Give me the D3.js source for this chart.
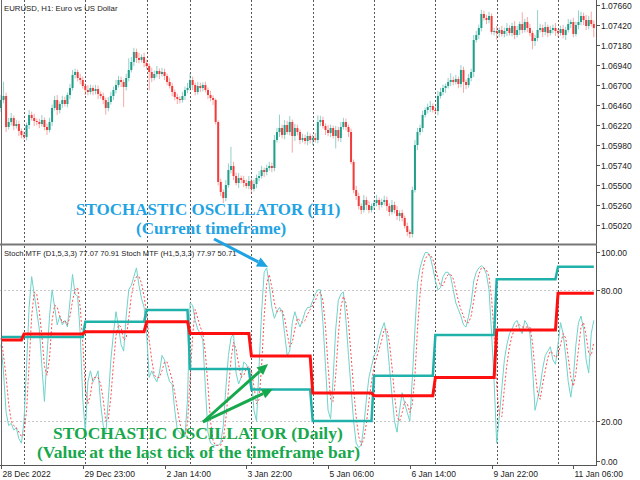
<!DOCTYPE html>
<html><head><meta charset="utf-8">
<script src="https://cdn.jsdelivr.net/npm/d3@7"></script>
<style>body{margin:0;background:#fff}svg{display:block}</style>
</head><body><svg id="c" width="640" height="480"></svg>
<script>
// ---------- DATA ----------
const firstOpen = 1.06424;
const closes = [
1.06520,1.06568,1.06196,1.06256,1.06304,1.06208,1.06232,1.06148,1.06100,1.06076,
1.06220,1.06340,1.06304,1.06268,1.06256,1.06232,1.06280,1.06196,1.06160,1.06256,
1.06424,1.06520,1.06400,1.06472,1.06520,1.06472,1.06580,1.06664,1.06820,1.06856,
1.06784,1.06760,1.06688,1.06640,1.06616,1.06664,1.06628,1.06652,1.06592,1.06568,
1.06520,1.06424,1.06496,1.06568,1.06640,1.06700,1.06760,1.06736,1.06676,1.06784,
1.06880,1.06976,1.07096,1.07024,1.07000,1.07036,1.06964,1.06928,1.06856,1.06784,
1.06832,1.06868,1.06832,1.06856,1.06808,1.06736,1.06688,1.06616,1.06556,1.06532,
1.06520,1.06568,1.06640,1.06664,1.06760,1.06700,1.06616,1.06688,1.06664,1.06700,
1.06640,1.06580,1.06544,1.06520,1.06256,1.05536,1.05416,1.05344,1.05500,1.05680,
1.05728,1.05608,1.05524,1.05584,1.05560,1.05524,1.05488,1.05548,1.05452,1.05512,
1.05584,1.05608,1.05680,1.05656,1.05704,1.05728,1.05704,1.06040,1.06136,1.06184,
1.06100,1.06220,1.06136,1.06256,1.06088,1.06184,1.06136,1.06040,1.06064,1.06028,
1.06088,1.06040,1.06064,1.06040,1.06256,1.06280,1.06208,1.06160,1.06124,1.06184,
1.06088,1.06160,1.06064,1.06196,1.06256,1.06196,1.06136,1.05776,1.05440,1.05368,
1.05248,1.05200,1.05320,1.05260,1.05200,1.05248,1.05284,1.05320,1.05260,1.05296,
1.05320,1.05248,1.05176,1.05260,1.05200,1.05128,1.05164,1.05104,1.05008,1.04936,
1.04912,1.05440,1.05980,1.06136,1.06184,1.06340,1.06400,1.06436,1.06448,1.06400,
1.06388,1.06568,1.06616,1.06664,1.06688,1.06736,1.06760,1.06736,1.06772,1.06712,
1.06880,1.06736,1.06700,1.06784,1.06856,1.07240,1.07300,1.07384,1.07552,1.07504,
1.07480,1.07528,1.07336,1.07348,1.07324,1.07360,1.07312,1.07348,1.07384,1.07324,
1.07408,1.07300,1.07360,1.07432,1.07360,1.07456,1.07384,1.07324,1.07228,1.07264,
1.07360,1.07384,1.07336,1.07396,1.07324,1.07360,1.07384,1.07348,1.07324,1.07372,
1.07300,1.07360,1.07432,1.07456,1.07312,1.07420,1.07456,1.07528,1.07480,1.07408,
1.07480,1.07432,1.07384];
// shadows in pips
const upperShadow = [
6,17,4,5,6,3,5,4,3,4, 3,6,4,5,3,4,6,3,4,5, 4,5,6,3,5,4,3,5,6,4, 3,5,4,3,6,4,3,5,4,3,
4,3,6,5,4,6,5,4,3,5, 14,6,5,4,6,3,5,4,3,5, 4,6,3,5,4,3,5,4,3,4, 3,5,4,6,8,4,3,5,4,3,
4,3,5,3,2,2,4,3,6,8, 23,5,4,6,3,5,4,6,3,5, 4,6,5,3,4,5,4,6,5,16, 4,6,5,7,3,5,4,3,5,4,
5,3,4,6,8,5,4,3,6,4, 3,5,4,6,5,4,3,4,3,5, 4,3,6,4,5,3,4,6,3,4, 5,4,3,6,4,5,3,4,3,4,
3,4,6,5,4,5,3,4,6,3, 4,6,5,4,3,5,8,4,5,3, 6,4,3,5,4,6,5,4,5,4, 4,5,3,4,6,3,5,4,6,3,
4,6,5,3,14,4,6,5,3,4, 24,5,4,6,3,5,4,6,3,4, 5,4,6,3,5,4,14,5,4,6, 5,10,4];
const lowerShadow = [
5,4,6,3,4,5,3,6,4,3, 4,5,3,6,4,5,3,4,6,3, 5,3,6,4,5,3,4,5,3,4, 4,5,3,6,4,3,5,4,6,3,
5,8,4,3,5,4,3,6,24,4, 4,3,5,6,4,3,5,4,22,5, 3,4,6,3,5,4,3,5,4,6, 4,3,5,4,3,6,4,3,5,4,
3,5,4,6,3,4,5,6,4,3, 4,5,3,6,4,5,3,4,6,3, 5,4,3,6,4,3,5,4,3,6, 4,5,3,4,20,6,4,5,3,4,
5,4,6,3,4,5,3,6,4,5, 3,15,4,5,3,4,6,3,4,5, 4,5,3,6,4,3,5,4,6,3, 4,6,5,3,4,5,6,4,3,5,
5,4,3,6,4,5,3,4,6,3, 4,5,3,4,6,3,5,4,3,5, 4,13,5,3,4,6,3,5,4,3, 5,4,3,4,8,5,3,4,6,3,
4,5,3,6,4,3,5,4,10,6, 4,3,6,4,5,3,4,6,5,3, 4,6,3,5,4,3,5,4,6,5, 4,3,11];
const stochH1Main = [
55,42,24,18,19,16,17,12,10,20, 45,72,86,78,70,62,45,29,50,68, 80,72,64,68,64,66,63,75,87,78,
77,60,30,15,38,43,38,40,43,28, 18,14,30,48,60,70,63,55,52,68, 80,82,86,90,82,76,72,60,40,43,
40,38,42,50,48,42,38,37,25,16, 15,13,13,30,74,73,66,62,60,57, 35,15,10,9,9,9,10,18,35,50,
58,60,42,37,40,47,46,43,40,25, 20,45,70,88,90,82,72,67,70,72, 70,60,50,52,65,70,66,63,66,70,
72,72,75,78,80,80,65,45,25,21, 40,62,75,78,79,66,50,35,20,10, 8,9,18,30,40,45,50,52,58,62,
65,58,45,32,20,15,25,33,28,24, 20,40,62,83,90,94,97,97,95,90, 84,80,81,86,88,88,86,80,74,71,
68,64,63,68,74,84,88,90,91,90, 87,80,60,38,10,22,35,48,55,60, 62,65,66,62,60,66,64,60,45,25,
30,36,44,50,52,54,48,46,55,65, 60,50,38,31,40,55,65,68,62,48, 42,60,66];
const stochH1Signal = [
58,50,40,28,20,18,17,15,13,14, 25,46,68,79,78,70,59,45,41,49, 66,73,72,68,65,66,64,68,75,80,
81,72,56,35,28,32,40,40,40,37, 30,20,21,31,46,59,64,63,57,58, 67,77,83,86,86,83,77,69,57,48,
41,40,40,43,47,47,43,39,33,26, 19,15,14,19,39,59,71,67,63,60, 51,36,20,11,9,9,9,12,21,34,
48,56,53,46,40,41,44,45,43,36, 28,30,45,68,83,87,81,74,70,70, 71,67,60,54,56,62,67,66,65,66,
69,71,73,75,78,79,75,63,45,30, 29,41,59,72,77,74,65,50,35,22, 13,9,12,19,29,38,45,49,53,57,
62,62,56,45,32,22,20,24,29,28, 24,28,41,62,78,89,94,96,96,94, 90,85,82,82,85,87,87,85,80,75,
71,68,65,65,68,75,82,87,90,90, 89,86,76,59,36,23,22,35,46,54, 59,62,64,64,63,63,63,63,56,43,
33,30,37,43,49,52,51,49,50,55, 60,58,49,40,36,42,53,63,65,59, 51,50,56];
// daily stochastic (one value per trading day)
const dayStart = [0,9,33,57,74,98,122,146,170,194,218];
const stochD1Main   = [58.4,58.4,65.4,70.8,43.8,34.5,20.1,40.8,59.4,84.8,90.5];
const stochD1Signal = [57.1,59.8,60.9,65.4,60.1,49.8,32.9,31.6,40.0,61.6,78.4];
const priceTicks = [1.07660,1.07420,1.07180,1.06940,1.06700,1.06460,1.06220,1.05980,1.05740,1.05500,1.05260,1.05020];
const stochTicks = [100,80,20,0];
const stochLevels = [80,20];
const timeLabelBar = [0,32,64,96,128,160,192,224];
const timeLabels = ["28 Dec 2022","29 Dec 23:00","2 Jan 14:00","3 Jan 22:00","5 Jan 06:00","6 Jan 14:00","9 Jan 22:00","11 Jan 06:00"];

// ---------- LAYOUT ----------
const svg = d3.select("#c");
const plotR = 596, mainTop = 0, mainBot = 244, subTop = 246, subBot = 465;
const n = closes.length;
const x = d3.scaleLinear().domain([0, n-1]).range([1, 593.8]);
const y = d3.scaleLinear().domain([1.05020, 1.07660]).range([225, 5]);
const ys = d3.scaleLinear().domain([0, 100]).range([subBot, subTop]);
const font = "'Liberation Sans', Arial, sans-serif";

svg.append("rect").attr("width",640).attr("height",480).attr("fill","#fff");

const defs = svg.append("defs");
defs.append("clipPath").attr("id","cm").append("rect").attr("x",0).attr("y",mainTop).attr("width",plotR).attr("height",mainBot-mainTop);
defs.append("clipPath").attr("id","cs").append("rect").attr("x",0).attr("y",subTop).attr("width",plotR).attr("height",subBot-subTop);

// day separators
const sepIdx = dayStart.slice(1);
[[mainTop,mainBot],[subTop,subBot]].forEach(([a,b])=>{
  svg.append("g").selectAll("line").data(sepIdx).join("line")
    .attr("x1",d=>Math.round(x(d))+0.5).attr("x2",d=>Math.round(x(d))+0.5)
    .attr("y1",a).attr("y2",b)
    .attr("stroke","#555").attr("stroke-width",1).attr("stroke-dasharray","2,2");
});
// stoch levels
svg.append("g").selectAll("line").data(stochLevels).join("line")
  .attr("x1",0).attr("x2",plotR).attr("y1",d=>Math.round(ys(d))+0.5).attr("y2",d=>Math.round(ys(d))+0.5)
  .attr("stroke","#c8c8c8").attr("stroke-dasharray","2,2");

// candles
const candles = closes.map((c,i)=>{
  const o = i===0 ? firstOpen : closes[i-1];
  return {i,o,c,h:Math.max(o,c)+upperShadow[i]/10000,l:Math.min(o,c)-lowerShadow[i]/10000};
});
const gC = svg.append("g").attr("clip-path","url(#cm)");
gC.selectAll("line").data(candles).join("line")
  .attr("x1",d=>x(d.i)).attr("x2",d=>x(d.i)).attr("y1",d=>y(d.h)).attr("y2",d=>y(d.l))
  .attr("stroke",d=>d.c>=d.o?"#26a69a":"#ef5350").attr("stroke-opacity",0.5).attr("stroke-width",1);
gC.selectAll("rect").data(candles).join("rect")
  .attr("x",d=>x(d.i)-1).attr("width",2)
  .attr("y",d=>y(Math.max(d.o,d.c))).attr("height",d=>Math.max(1,y(Math.min(d.o,d.c))-y(Math.max(d.o,d.c))))
  .attr("fill",d=>d.c>=d.o?"#1f9e89":"#f23c3c");

// stochastic lines
const gS = svg.append("g").attr("clip-path","url(#cs)");
const line = d3.line().x((d,i)=>x(i)).y(d=>ys(d));
gS.append("path").attr("d",line(stochH1Main)).attr("fill","none").attr("stroke","#6fd3cb").attr("stroke-width",1);
gS.append("path").attr("d",line(stochH1Signal)).attr("fill","none").attr("stroke","#ff4d4d").attr("stroke-width",1).attr("stroke-dasharray","2,2");
const dayOf = i => d3.bisectRight(dayStart, i) - 1;
const d1Main = d3.range(n).map(i=>stochD1Main[dayOf(i)]);
const d1Sig  = d3.range(n).map(i=>stochD1Signal[dayOf(i)]);
gS.append("path").attr("d",line(d1Main)).attr("fill","none").attr("stroke","#20b2aa").attr("stroke-width",2.5);
gS.append("path").attr("d",line(d1Sig)).attr("fill","none").attr("stroke","#ff1010").attr("stroke-width",3);

// frame
svg.append("line").attr("x1",1.5).attr("x2",1.5).attr("y1",0).attr("y2",subBot).attr("stroke","#666");
svg.append("line").attr("x1",plotR+0.5).attr("x2",plotR+0.5).attr("y1",0).attr("y2",subBot+1).attr("stroke","#555");
svg.append("rect").attr("x",0).attr("y",243.5).attr("width",plotR+1).attr("height",2).attr("fill","#777");
svg.append("line").attr("x1",0).attr("x2",plotR+1).attr("y1",subBot+0.5).attr("y2",subBot+0.5).attr("stroke","#555");

// price axis
const gP = svg.append("g").attr("font-family",font).attr("font-size","8.5px").attr("fill","#222");
priceTicks.forEach(p=>{
  const yy = Math.round(y(p))+0.5;
  gP.append("line").attr("x1",plotR).attr("x2",plotR+4).attr("y1",yy).attr("y2",yy).attr("stroke","#555");
  gP.append("text").attr("x",plotR+5).attr("y",yy+3).text(d3.format(".5f")(p));
});
stochTicks.forEach(v=>{
  const yy = Math.round(Math.min(subBot-4, Math.max(subTop+6, ys(v))))+0.5;
  gP.append("line").attr("x1",plotR).attr("x2",plotR+4).attr("y1",yy).attr("y2",yy).attr("stroke","#555");
  gP.append("text").attr("x",plotR+5).attr("y",yy+3).text(d3.format(".2f")(v));
});
// time axis
timeLabelBar.forEach((b,k)=>{
  const xx = Math.round(x(b))+0.5;
  gP.append("line").attr("x1",xx).attr("x2",xx).attr("y1",subBot).attr("y2",subBot+4).attr("stroke","#555");
  gP.append("text").attr("x",xx+1).attr("y",subBot+12).text(timeLabels[k]);
});

// titles
svg.append("text").attr("x",4).attr("y",10.5).attr("font-family",font).attr("font-size","7.8px").attr("fill","#222")
  .text("EURUSD, H1:  Euro vs US Dollar");
svg.append("text").attr("x",4).attr("y",256).attr("font-family",font).attr("font-size","7.6px").attr("fill","#222")
  .text("Stoch MTF (D1,5,3,3) 77.07 70.91 Stoch MTF (H1,5,3,3) 77.97 50.71");

// annotations
const serif = "'Liberation Serif','Times New Roman',serif";
const blue = "#1fa3e3", green = "#17a84d";
svg.append("text").attr("x",76).attr("y",215).attr("font-family",serif).attr("font-weight","bold").attr("font-size","17px").attr("fill",blue).text("STOCHASTIC OSCILLATOR (H1)");
svg.append("text").attr("x",136).attr("y",234).attr("font-family",serif).attr("font-weight","bold").attr("font-size","17px").attr("fill",blue).text("(Current timeframe)");
svg.append("text").attr("x",53).attr("y",439).attr("font-family",serif).attr("font-weight","bold").attr("font-size","17.5px").attr("fill",green).text("STOCHASTIC OSCILLATOR (Daily)");
svg.append("text").attr("x",37).attr("y",458).attr("font-family",serif).attr("font-weight","bold").attr("font-size","17.5px").attr("fill",green).text("(Value at the last tick of the timeframe bar)");

function arrow(x1,y1,x2,y2,color,w){
  const a = Math.atan2(y2-y1,x2-x1), L=11, Wd=5;
  const bx = x2-L*Math.cos(a), by = y2-L*Math.sin(a);
  svg.append("line").attr("x1",x1).attr("y1",y1).attr("x2",bx).attr("y2",by).attr("stroke",color).attr("stroke-width",w);
  const px = -Math.sin(a)*Wd, py = Math.cos(a)*Wd;
  svg.append("path").attr("d",`M${x2},${y2}L${bx+px},${by+py}L${bx-px},${by-py}Z`).attr("fill",color);
}
arrow(214,239,268,267,blue,3);
arrow(203,422,268,364,green,3);
arrow(203,422,273,389,green,3);
</script></body></html>
